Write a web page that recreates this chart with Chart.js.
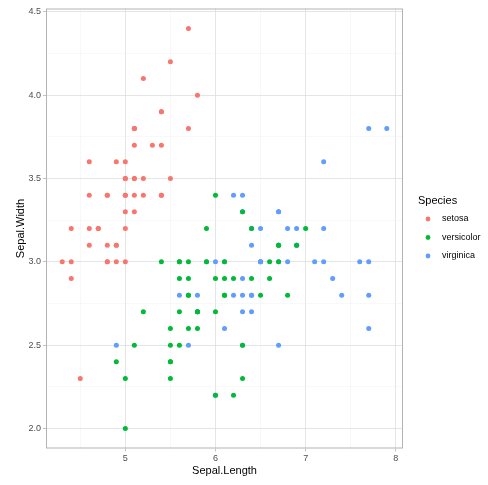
<!DOCTYPE html>
<html>
<head>
<meta charset="utf-8">
<script src="https://cdn.jsdelivr.net/npm/chart.js@4"></script>
<style>
  html, body { margin: 0; padding: 0; background: #fff; }
  #wrap { width: 488px; height: 485px; }
</style>
</head>
<body>
<div id="wrap"><canvas id="chart" width="488" height="485"></canvas></div>
<script>
// --- data (iris: Sepal.Length / Sepal.Width) ---
const species = ['setosa', 'versicolor', 'virginica'];
const speciesColors = ['#F8766D', '#00BA38', '#619CFF'];

const setosaLength = [5.1,4.9,4.7,4.6,5.0,5.4,4.6,5.0,4.4,4.9,5.4,4.8,4.8,4.3,5.8,5.7,5.4,5.1,5.7,5.1,5.4,5.1,4.6,5.1,4.8,5.0,5.0,5.2,5.2,4.7,4.8,5.4,5.2,5.5,4.9,5.0,5.5,4.9,4.4,5.1,5.0,4.5,4.4,5.0,5.1,4.8,5.1,4.6,5.3,5.0];
const setosaWidth  = [3.5,3.0,3.2,3.1,3.6,3.9,3.4,3.4,2.9,3.1,3.7,3.4,3.0,3.0,4.0,4.4,3.9,3.5,3.8,3.8,3.4,3.7,3.6,3.3,3.4,3.0,3.4,3.5,3.4,3.2,3.1,3.4,4.1,4.2,3.1,3.2,3.5,3.6,3.0,3.4,3.5,2.3,3.2,3.5,3.8,3.0,3.8,3.2,3.7,3.3];

const versicolorLength = [7.0,6.4,6.9,5.5,6.5,5.7,6.3,4.9,6.6,5.2,5.0,5.9,6.0,6.1,5.6,6.7,5.6,5.8,6.2,5.6,5.9,6.1,6.3,6.1,6.4,6.6,6.8,6.7,6.0,5.7,5.5,5.5,5.8,6.0,5.4,6.0,6.7,6.3,5.6,5.5,5.5,6.1,5.8,5.0,5.6,5.7,5.7,6.2,5.1,5.7];
const versicolorWidth  = [3.2,3.2,3.1,2.3,2.8,2.8,3.3,2.4,2.9,2.7,2.0,3.0,2.2,2.9,2.9,3.1,3.0,2.7,2.2,2.5,3.2,2.8,2.5,2.8,2.9,3.0,2.8,3.0,2.9,2.6,2.4,2.4,2.7,2.7,3.0,3.4,3.1,2.3,3.0,2.5,2.6,3.0,2.6,2.3,2.7,3.0,2.9,2.9,2.5,2.8];

const virginicaLength = [6.3,5.8,7.1,6.3,6.5,7.6,4.9,7.3,6.7,7.2,6.5,6.4,6.8,5.7,5.8,6.4,6.5,7.7,7.7,6.0,6.9,5.6,7.7,6.3,6.7,7.2,6.2,6.1,6.4,7.2,7.4,7.9,6.4,6.3,6.1,7.7,6.3,6.4,6.0,6.9,6.7,6.9,5.8,6.8,6.7,6.7,6.3,6.5,6.2,5.9];
const virginicaWidth  = [3.3,2.7,3.0,2.9,3.0,3.0,2.5,2.9,2.5,3.6,3.2,2.7,3.0,2.5,2.8,3.2,3.0,3.8,2.6,2.2,3.2,2.8,2.8,2.7,3.3,3.2,2.8,3.0,2.8,3.0,2.8,3.8,2.8,2.8,2.6,3.0,3.4,3.1,3.0,3.1,3.1,3.1,2.7,3.2,3.3,3.0,2.5,3.0,3.4,3.0];

const xTicks = [4.5, 5, 5.5, 6, 6.5, 7, 7.5, 8];
const yTicks = [2.0, 2.25, 2.5, 2.75, 3.0, 3.25, 3.5, 3.75, 4.0, 4.25, 4.5];

const lengths = [setosaLength, versicolorLength, virginicaLength];
const widths = [setosaWidth, versicolorWidth, virginicaWidth];

const isMajorX = v => Math.abs(v - Math.round(v)) < 1e-6;
const isMajorY = v => Math.abs(v * 2 - Math.round(v * 2)) < 1e-6;

// panel border + legend drawn on the right side
const panelPlugin = {
    id: 'panel',
    afterDraw(chart) {
        const { ctx, chartArea: a } = chart;
        ctx.save();
        ctx.strokeStyle = '#b3b3b3';
        ctx.lineWidth = 1;
        ctx.strokeRect(a.left + 0.5, a.top + 0.5, a.right - a.left - 1, a.bottom - a.top - 1);

        // legend
        ctx.fillStyle = '#000';
        ctx.font = '11px "Liberation Sans", Arial, sans-serif';
        ctx.textBaseline = 'middle';
        ctx.textAlign = 'left';
        ctx.fillText('Species', 418, 201);
        ctx.font = '9px "Liberation Sans", Arial, sans-serif';
        species.forEach((s, i) => {
            const y = 219 + i * 18.5;
            ctx.fillStyle = speciesColors[i];
            ctx.beginPath();
            ctx.arc(428, y, 2.4, 0, Math.PI * 2);
            ctx.fill();
            ctx.fillStyle = '#000';
            ctx.fillText(s, 442, y);
        });
        ctx.restore();
    }
};

new Chart(document.getElementById('chart'), {
    type: 'scatter',
    data: {
        datasets: species.map((s, i) => ({
            label: s,
            data: lengths[i].map((x, j) => ({ x: x, y: widths[i][j] })),
            backgroundColor: speciesColors[i],
            borderWidth: 0,
            pointRadius: 2.5,
            pointHoverRadius: 2.5
        }))
    },
    options: {
        responsive: false,
        animation: false,
        layout: { padding: { top: 8.5, right: 85, left: 0, bottom: 0 } },
        plugins: {
            legend: { display: false },
            tooltip: { enabled: false }
        },
        scales: {
            x: {
                type: 'linear',
                min: 4.12,
                max: 8.08,
                afterBuildTicks: scale => { scale.ticks = xTicks.map(v => ({ value: v })); },
                afterFit: scale => { scale.height = 36.5; },
                ticks: {
                    autoSkip: false,
                    maxRotation: 0,
                    padding: 2,
                    color: '#4d4d4d',
                    font: { family: '"Liberation Sans", Arial, sans-serif', size: 9 },
                    callback: v => isMajorX(v) ? String(v) : ''
                },
                grid: {
                    color: c => isMajorX(c.tick.value) ? '#dedede' : '#f0f0f0',
                    lineWidth: c => isMajorX(c.tick.value) ? 0.8 : 0.5,
                    tickColor: c => isMajorX(c.tick.value) ? '#b3b3b3' : 'rgba(0,0,0,0)',
                    tickLength: 3
                },
                border: { display: false },
                title: {
                    display: true,
                    text: 'Sepal.Length',
                    color: '#000',
                    padding: { top: 1, bottom: 7 },
                    font: { family: '"Liberation Sans", Arial, sans-serif', size: 11 }
                }
            },
            y: {
                type: 'linear',
                min: 1.88,
                max: 4.52,
                afterBuildTicks: scale => { scale.ticks = yTicks.map(v => ({ value: v })); },
                afterFit: scale => { scale.width = 46; },
                ticks: {
                    autoSkip: false,
                    padding: 2,
                    color: '#4d4d4d',
                    font: { family: '"Liberation Sans", Arial, sans-serif', size: 9 },
                    callback: v => isMajorY(v) ? v.toFixed(1) : ''
                },
                grid: {
                    color: c => isMajorY(c.tick.value) ? '#dedede' : '#f0f0f0',
                    lineWidth: c => isMajorY(c.tick.value) ? 0.8 : 0.5,
                    tickColor: c => isMajorY(c.tick.value) ? '#b3b3b3' : 'rgba(0,0,0,0)',
                    tickLength: 3
                },
                border: { display: false },
                title: {
                    display: true,
                    text: 'Sepal.Width',
                    color: '#000',
                    padding: { top: 14, bottom: 4 },
                    font: { family: '"Liberation Sans", Arial, sans-serif', size: 11 }
                }
            }
        }
    },
    plugins: [panelPlugin]
});
</script>
</body>
</html>
